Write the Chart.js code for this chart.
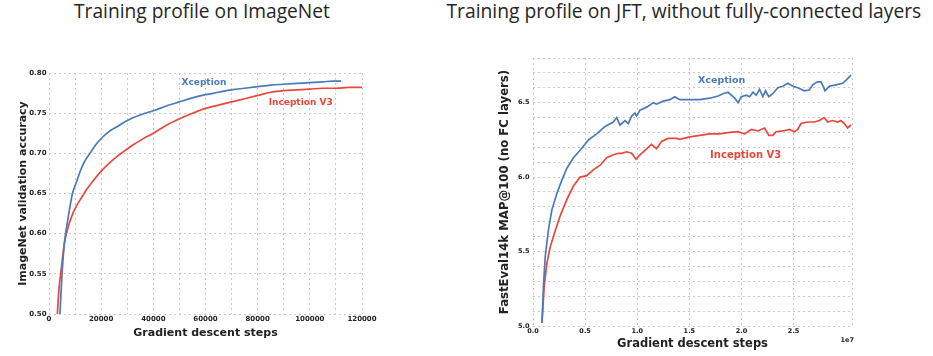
<!DOCTYPE html>
<html><head><meta charset="utf-8">
<script src="https://cdn.jsdelivr.net/npm/chart.js@4"></script>
<style>
html,body{margin:0;padding:0;background:#fff;width:933px;height:356px;overflow:hidden;position:relative}
canvas{position:absolute}
.ttl{position:absolute;font-family:"Open Sans";line-height:1;color:#262626;white-space:nowrap}
</style></head><body>
<div id="t1" class="ttl">Training profile on ImageNet</div>
<div id="t2" class="ttl">Training profile on JFT, without fully-connected layers</div>
<canvas id="c1" width="385" height="316" style="left:0;top:40px"></canvas>
<canvas id="c2" width="400" height="316" style="left:470px;top:40px"></canvas>
<script>
// ---------- Data: ImageNet (left) ----------
const imagenetXceptionSteps = [4200, 5000, 5900, 7400, 9000, 10500, 12000, 13500, 15700, 18000, 20500, 23000, 26000, 29000, 32000, 36000, 40000, 45000, 50000, 55000, 60000, 65000, 70000, 75000, 80000, 85000, 90000, 95000, 100000, 105000, 109000, 112000];
const imagenetXceptionAcc = [0.50, 0.55, 0.588, 0.621, 0.650, 0.664, 0.678, 0.689, 0.700, 0.711, 0.720, 0.727, 0.733, 0.739, 0.744, 0.749, 0.753, 0.759, 0.764, 0.769, 0.773, 0.776, 0.779, 0.781, 0.783, 0.785, 0.786, 0.787, 0.788, 0.789, 0.790, 0.790];
const imagenetInceptionSteps = [3200, 3800, 4800, 5900, 7400, 9000, 10600, 12500, 14400, 17000, 19500, 22500, 26000, 29000, 32000, 36000, 40000, 45000, 50000, 55000, 60000, 65000, 70000, 75000, 80000, 85000, 90000, 95000, 100000, 105000, 110000, 115000, 120000];
const imagenetInceptionAcc = [0.50, 0.53, 0.559, 0.588, 0.609, 0.624, 0.635, 0.645, 0.655, 0.666, 0.676, 0.686, 0.696, 0.703, 0.710, 0.718, 0.725, 0.735, 0.743, 0.750, 0.756, 0.760, 0.764, 0.768, 0.772, 0.776, 0.778, 0.779, 0.780, 0.781, 0.781, 0.782, 0.782];

// ---------- Data: JFT (right), steps in units of 1e7 ----------
const jftXceptionSteps = [0.086,0.102,0.118,0.149,0.181,0.229,0.277,0.325,0.388,0.452,0.532,0.611,0.691,0.771,0.803,0.835,0.883,0.914,0.946,0.978,0.994,1.026,1.090,1.154,1.185,1.249,1.313,1.360,1.408,1.504,1.600,1.696,1.775,1.823,1.871,1.903,1.935,1.967,1.998,2.046,2.078,2.110,2.141,2.173,2.205,2.230,2.262,2.300,2.348,2.396,2.444,2.492,2.539,2.603,2.651,2.683,2.730,2.762,2.784,2.800,2.842,2.906,2.970,3.002,3.050];
const jftXceptionMap = [5.02,5.29,5.47,5.65,5.78,5.89,5.98,6.06,6.13,6.18,6.25,6.29,6.34,6.37,6.40,6.35,6.38,6.36,6.41,6.43,6.41,6.45,6.47,6.50,6.49,6.51,6.52,6.54,6.52,6.52,6.52,6.53,6.545,6.56,6.57,6.55,6.53,6.50,6.54,6.55,6.54,6.57,6.55,6.59,6.54,6.58,6.54,6.56,6.60,6.61,6.63,6.61,6.60,6.58,6.585,6.62,6.64,6.64,6.61,6.58,6.61,6.62,6.63,6.65,6.685];
const jftInceptionSteps = [0.086,0.108,0.133,0.165,0.213,0.261,0.325,0.388,0.452,0.516,0.580,0.644,0.707,0.771,0.819,0.851,0.898,0.946,0.988,1.026,1.090,1.137,1.185,1.233,1.297,1.376,1.408,1.504,1.600,1.696,1.791,1.887,1.967,2.030,2.094,2.157,2.221,2.262,2.300,2.332,2.396,2.460,2.508,2.539,2.571,2.635,2.699,2.747,2.794,2.826,2.874,2.922,2.954,2.986,3.018,3.050];
const jftInceptionMap = [5.02,5.27,5.42,5.53,5.64,5.74,5.85,5.94,6.00,6.01,6.05,6.08,6.13,6.15,6.16,6.16,6.17,6.16,6.12,6.15,6.19,6.22,6.19,6.24,6.26,6.26,6.254,6.27,6.28,6.29,6.29,6.30,6.305,6.29,6.32,6.31,6.33,6.28,6.28,6.305,6.31,6.32,6.305,6.32,6.36,6.37,6.37,6.38,6.40,6.37,6.38,6.37,6.38,6.36,6.33,6.35];

// ---------- Text ----------
const seriesNames = ["Xception", "Inception V3"];
const leftTitles = {x: "Gradient descent steps", y: "ImageNet validation accuracy"};
const rightTitles = {x: "Gradient descent steps", y: "FastEval14k MAP@100 (no FC layers)"};

const BLUE = '#4a7ab9', RED = '#e8483c', GRID = '#c9c9c9', TXT = '#222';

// ---------- Page titles fitted to measured widths ----------
function placeTitle(id, cx, baseline, width){
  const el = document.getElementById(id);
  const m = document.createElement('canvas').getContext('2d');
  m.font = '100px "Open Sans"';
  const w = m.measureText(el.textContent).width;
  const f = 100*width/w;
  el.style.fontSize = f+'px';
  el.style.left = (cx - width/2)+'px';
  el.style.top = (baseline - 0.888*f)+'px';
}
placeTitle('t1', 202, 18.3, 256);
placeTitle('t2', 684, 18.3, 475);

const toXY = (xs, ys) => xs.map((x,i)=>({x, y: ys[i]}));

const labelPlugin = {
  id: 'lbl',
  afterDatasetsDraw(chart, args, opts){
    const ctx = chart.ctx, xs = chart.scales.x, ys = chart.scales.y;
    ctx.save();
    (opts.items||[]).forEach(it=>{
      ctx.font = 'bold '+it.size+'px "DejaVu Sans"';
      ctx.fillStyle = it.color;
      ctx.textAlign = it.align || 'center';
      ctx.textBaseline = 'middle';
      const px = it.px!==undefined ? chart.chartArea.right + it.px : xs.getPixelForValue(it.x);
      const py = it.py!==undefined ? chart.chartArea.bottom + it.py : ys.getPixelForValue(it.y);
      ctx.fillText(it.text, px, py);
    });
    ctx.restore();
  }
};

const gridOpts = () => ({color: GRID, lineWidth: 1, drawTicks: false, tickLength: 0});
const borderOpts = () => ({display: false, dash: [2, 3]});

// ---------- Left chart ----------
new Chart(document.getElementById('c1'), {
  type: 'line',
  data: { datasets: [
    {label: seriesNames[0], data: toXY(imagenetXceptionSteps, imagenetXceptionAcc), borderColor: BLUE, borderWidth: 1.7, pointRadius: 0, fill: false, cubicInterpolationMode: 'monotone'},
    {label: seriesNames[1], data: toXY(imagenetInceptionSteps, imagenetInceptionAcc), borderColor: RED, borderWidth: 1.7, pointRadius: 0, fill: false, cubicInterpolationMode: 'monotone'}
  ]},
  options: {
    responsive: false, animation: false, devicePixelRatio: 1,
    layout: {padding: {top: 33, right: 23, left: 0, bottom: 0}},
    plugins: {legend: {display: false}, tooltip: {enabled: false},
      lbl: {items: [
        {text: seriesNames[0], x: 59400, y: 0.788, size: 9, color: BLUE},
        {text: seriesNames[1], x: 96500, y: 0.7626, size: 9, color: RED}
      ]}},
    scales: {
      x: {type: 'linear', min: 0, max: 120000,
        afterFit(s){ s.height = 42; },
        grid: gridOpts(), border: borderOpts(),
        ticks: {stepSize: 10000, autoSkip: false, maxRotation: 0, padding: 1, color: TXT,
          font: {family: 'DejaVu Sans', weight: 'bold', size: 7},
          callback: v => (v % 20000 === 0 ? String(v) : '')},
        title: {display: true, text: leftTitles.x, color: TXT, padding: {top: 0, bottom: 16.7},
          font: {family: 'DejaVu Sans', weight: 'bold', size: 11}}
      },
      y: {type: 'linear', min: 0.5, max: 0.8,
        afterFit(s){ s.width = 49; },
        grid: gridOpts(), border: borderOpts(),
        ticks: {stepSize: 0.05, autoSkip: false, padding: 2.5, color: TXT,
          font: {family: 'DejaVu Sans', weight: 'bold', size: 7},
          callback: v => Number(v).toFixed(2)},
        title: {display: true, text: leftTitles.y, color: TXT, padding: {top: 16.4, bottom: 0},
          font: {family: 'DejaVu Sans', weight: 'bold', size: 11}}
      }
    }
  },
  plugins: [labelPlugin]
});

// ---------- Right chart ----------
new Chart(document.getElementById('c2'), {
  type: 'line',
  data: { datasets: [
    {label: seriesNames[0], data: toXY(jftXceptionSteps, jftXceptionMap), borderColor: BLUE, borderWidth: 1.7, pointRadius: 0, fill: false, tension: 0},
    {label: seriesNames[1], data: toXY(jftInceptionSteps, jftInceptionMap), borderColor: RED, borderWidth: 1.7, pointRadius: 0, fill: false, tension: 0}
  ]},
  options: {
    responsive: false, animation: false, devicePixelRatio: 1,
    layout: {padding: {top: 18, right: 18, left: 0, bottom: 0}},
    plugins: {legend: {display: false}, tooltip: {enabled: false},
      lbl: {items: [
        {text: seriesNames[0], x: 1.81, y: 6.647, size: 9.5, color: BLUE},
        {text: seriesNames[1], x: 2.04, y: 6.145, size: 10, color: RED},
        {text: '1e7', px: 2, py: 14, size: 6.5, color: TXT, align: 'right'}
      ]}},
    scales: {
      x: {type: 'linear', min: 0, max: 3.06,
        afterFit(s){ s.height = 30; },
        grid: gridOpts(), border: borderOpts(),
        ticks: {stepSize: 0.5, autoSkip: false, maxRotation: 0, padding: 1, color: TXT,
          font: {family: 'DejaVu Sans', weight: 'bold', size: 6.5},
          callback: v => (Math.abs(v*2 - Math.round(v*2)) < 1e-6 ? Number(v).toFixed(1) : '')},
        title: {display: true, text: rightTitles.x, color: TXT, padding: {top: 0, bottom: 5},
          font: {family: 'DejaVu Sans', weight: 'bold', size: 11.5}}
      },
      y: {type: 'linear', min: 5.0, max: 6.8,
        afterFit(s){ s.width = 63; },
        grid: gridOpts(), border: borderOpts(),
        ticks: {stepSize: 0.1, autoSkip: false, padding: 3.5, color: TXT,
          font: {family: 'DejaVu Sans', weight: 'bold', size: 6.5},
          callback: v => (Math.abs(v*2 - Math.round(v*2)) < 1e-6 ? Number(v).toFixed(1) : '')},
        title: {display: true, text: rightTitles.y, color: TXT, padding: {top: 28, bottom: 0},
          font: {family: 'DejaVu Sans', weight: 'bold', size: 11.7}}
      }
    }
  },
  plugins: [labelPlugin]
});
</script>
</body></html>
